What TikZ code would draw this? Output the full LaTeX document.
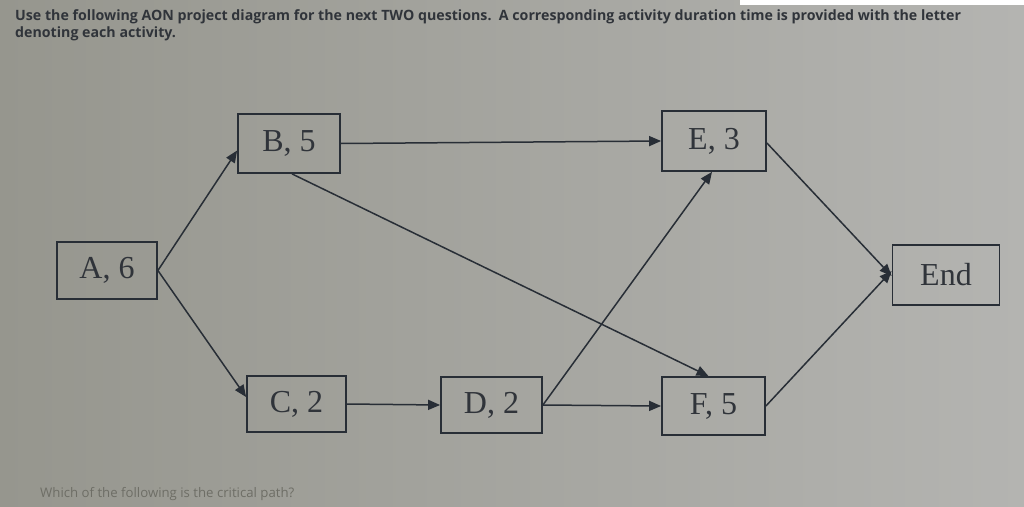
\documentclass[tikz,border=0pt]{standalone}
\usepackage{fontspec}
\setmainfont{Liberation Serif}
\newfontfamily\hdrfont{Open Sans}
\usetikzlibrary{arrows.meta}
\definecolor{bgL}{RGB}{150,150,142}
\definecolor{bgM}{RGB}{198,198,194}
\definecolor{bgR}{RGB}{180,180,177}
\definecolor{ink}{RGB}{40,46,54}
\definecolor{txt}{RGB}{48,52,58}
\definecolor{faint}{RGB}{110,110,102}
\tikzset{
  actbox/.style={draw=ink, line width=1.8pt, minimum width=#1, inner sep=0pt,
    font=\fontsize{32}{36}\selectfont, text=txt},
  link/.style={draw=ink, line width=1.5pt, -{Triangle[length=12pt,width=10pt]}},
  hdr/.style={anchor=base west, inner sep=0pt, text=txt, font=\hdrfont\bfseries\fontsize{14.2}{16}\selectfont},
}
\begin{document}
\begin{tikzpicture}[x=1pt,y=-1pt]
\useasboundingbox (0,0) rectangle (1024,506);
\shade[left color=bgL, middle color=bgM, right color=bgR] (0,0) rectangle (1024,506);
\fill[white] (740,0) rectangle (1024,5);
% header
\node[hdr] (h1) at (15,20)
  {Use the following AON project diagram for the next TWO questions.\ \ A corresponding activity duration time is provided with the letter};
\node[hdr] (h2) at (15,37) {denoting each activity.};
\node[anchor=base west, inner sep=0pt, text=faint, font=\hdrfont\fontsize{13.2}{15}\selectfont] (q) at (40,497)
  {Which of the following is the critical path?};
% activities
\node[actbox=100pt, minimum height=57pt] (A) at (107,270.5) {A, 6};
\node[actbox=102pt, minimum height=59pt] (B) at (289,143.5) {B, 5};
\node[actbox=99pt, minimum height=56pt] (C) at (296.5,404) {C, 2};
\node[actbox=101pt, minimum height=56pt] (D) at (491.5,405) {D, 2};
\node[actbox=104pt, minimum height=60pt] (E) at (714,141) {E, 3};
\node[actbox=103pt, minimum height=58pt] (F) at (713.5,406) {F, 5};
\node[actbox=107pt, minimum height=60pt] (End) at (946,275) {End};
% connectors
\draw[link] (A.east) -- ([yshift=-7pt]B.west);
\draw[link] (A.east) -- ([yshift=7pt]C.west);
\draw[link] (B.east) -- (E.west);
\draw[link] ([xshift=3pt]B.south) -- ([xshift=-5pt]F.north);
\draw[link] (C.east) -- (D.west);
\draw[link] (D.east) -- (F.west);
\draw[link] (D.east) -- ([xshift=-2pt]E.south);
\draw[link] ([yshift=-2pt]E.east) -- ([yshift=-1pt]End.west);
\draw[link] (F.east) -- ([yshift=4pt]End.west);
\end{tikzpicture}
\end{document}
